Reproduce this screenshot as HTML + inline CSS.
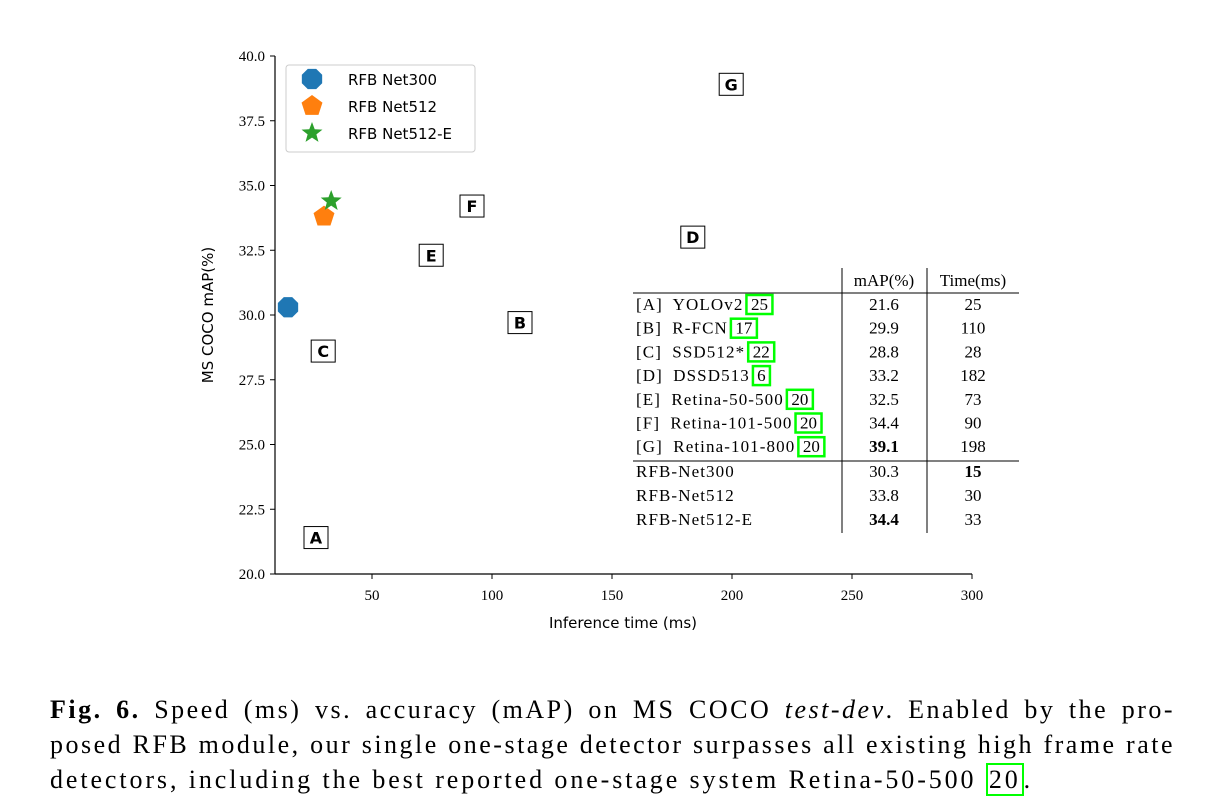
<!DOCTYPE html>
<html><head><meta charset="utf-8"><style>
body{margin:0;background:#fff;width:1215px;height:806px;overflow:hidden;position:relative}
svg{position:absolute;left:0;top:0}
.cap{position:absolute;left:50px;width:1125px;font-family:"Liberation Serif",serif;font-size:26px;letter-spacing:2.5px;line-height:30px;text-align:justify;text-align-last:justify;color:#000;white-space:nowrap}
.ref{border:2px solid #00ff00;padding:0 1px}
</style></head><body>
<svg id="chart" width="1215" height="680" font-family="Liberation Serif, serif"></svg>
<div class="cap" style="top:695px"><b>Fig. 6.</b> Speed (ms) vs. accuracy (mAP) on MS COCO <i>test-dev</i>. Enabled by the pro-</div>
<div class="cap" style="top:730px">posed RFB module, our single one-stage detector surpasses all existing high frame rate</div>
<div class="cap" style="top:765px;text-align-last:left;letter-spacing:2.9px">detectors, including the best reported one-stage system Retina-50-500 <span class="ref">20</span>.</div>
<script>
const xTicks=[50,100,150,200,250,300];
const yTicks=[20.0,22.5,25.0,27.5,30.0,32.5,35.0,37.5,40.0];
const letters=["A","B","C","D","E","F","G"];
const names=["YOLOv2","R-FCN","SSD512*","DSSD513","Retina-50-500","Retina-101-500","Retina-101-800"];
const refs=["25","17","22","6","20","20","20"];
const otherTime=[25,110,28,182,73,90,198];
const otherMap=[21.6,29.9,28.8,33.2,32.5,34.4,39.1];
const rfbNames=["RFB Net300","RFB Net512","RFB Net512-E"];
const rfbTableNames=["RFB-Net300","RFB-Net512","RFB-Net512-E"];
const rfbTime=[15,30,33];
const rfbMap=[30.3,33.8,34.4];
const colors=["#1f77b4","#ff7f0e","#2ca02c"];
const NS="http://www.w3.org/2000/svg";
const svg=document.getElementById('chart');
const X=v=>372+(v-50)*2.4, Y=v=>574-(v-20)*25.9;
function el(t,a,txt){const e=document.createElementNS(NS,t);for(const k in a)e.setAttribute(k,a[k]);if(txt!==undefined)e.textContent=txt;svg.appendChild(e);return e;}
let e=el('line',{x1:275,y1:574,x2:972,y2:574,stroke:'#000','stroke-width':1.2});

e=el('line',{x1:275,y1:56,x2:275,y2:574,stroke:'#000','stroke-width':1.2});

xTicks.forEach(v=>{
 e=el('line',{x1:X(v),y1:574,x2:X(v),y2:579,stroke:'#000'});
 
 e=el('text',{x:X(v),y:600,'font-size':15,'text-anchor':'middle'},String(v));
 
});
yTicks.forEach(v=>{
 e=el('line',{x1:270,y1:Y(v),x2:275,y2:Y(v),stroke:'#000'});
 
 e=el('text',{x:265,y:Y(v)+5,'font-size':15,'text-anchor':'end'},v.toFixed(1));
 
});
e=el('text',{x:623,y:628,'font-size':15,'text-anchor':'middle','font-family':'DejaVu Sans, sans-serif'},'Inference time (ms)');

e=el('text',{x:0,y:0,'font-size':15,'text-anchor':'middle','font-family':'DejaVu Sans, sans-serif',transform:'translate(213,315) rotate(-90)'},'MS COCO mAP(%)');

letters.forEach((L,i)=>{
 const cx=X(otherTime[i])+4, cy=Y(otherMap[i])+5;
 e=el('rect',{x:cx-12,y:cy-11,width:24,height:22,fill:'#fff',stroke:'#000','stroke-width':1});
 
 e=el('text',{x:cx,y:cy+6,'font-size':16,'font-weight':'bold','text-anchor':'middle','font-family':'DejaVu Sans, sans-serif'},L);
 
});
function marker(k,cx,cy,s){
 let pts=[];
 if(k===0){for(let i=0;i<8;i++){const a=Math.PI/8+i*Math.PI/4;pts.push([cx+s*Math.cos(a),cy+s*Math.sin(a)]);}}
 else if(k===1){for(let i=0;i<5;i++){const a=-Math.PI/2+i*2*Math.PI/5;pts.push([cx+s*Math.cos(a),cy+s*Math.sin(a)]);}}
 else {for(let i=0;i<10;i++){const a=-Math.PI/2+i*Math.PI/5;const r=i%2?s*0.42:s;pts.push([cx+r*Math.cos(a),cy+r*Math.sin(a)]);}}
 return el('polygon',{points:pts.map(p=>p.join(',')).join(' '),fill:colors[k]});
}
rfbTime.forEach((t,i)=>{
 e=marker(i,X(t),Y(rfbMap[i]),11);
 
});
e=el('rect',{x:286,y:65,width:189,height:87,rx:3,fill:'#fff',stroke:'#ccc'});

rfbNames.forEach((n,i)=>{
 const y=79+i*27;
 e=marker(i,312,y,11);
 
 e=el('text',{x:348,y:y+6,'font-size':15,'font-family':'DejaVu Sans, sans-serif'},n);
 
});
const T=17;
e=el('line',{x1:842,y1:268,x2:842,y2:533,stroke:'#000'});
e=el('line',{x1:927,y1:268,x2:927,y2:533,stroke:'#000'});
e=el('line',{x1:633,y1:293,x2:1019,y2:293,stroke:'#000'});
e=el('line',{x1:633,y1:461,x2:1019,y2:461,stroke:'#000'});
e=el('text',{x:884,y:286,'font-size':T,'text-anchor':'middle'},'mAP(%)');
e=el('text',{x:973,y:286,'font-size':T,'text-anchor':'middle'},'Time(ms)');
letters.forEach((L,i)=>{
 const y=310+i*23.7;
 const t=el('text',{x:636,y:y,'font-size':T,'word-spacing':5,'letter-spacing':1.1},'['+L+'] '+names[i]+' ');
 
 const len=t.getComputedTextLength();
 const rw=refs[i].length*9+8;
 e=el('rect',{x:636+len+3,y:y-15,width:rw,height:19,fill:'none',stroke:'#00ff00','stroke-width':2.5});
 
 e=el('text',{x:636+len+3+rw/2,y:y,'font-size':T,'text-anchor':'middle'},refs[i]);
 
 e=el('text',{x:884,y:y,'font-size':T,'text-anchor':'middle','font-weight':i===6?'bold':'normal'},otherMap[i].toFixed(1));
 
 e=el('text',{x:973,y:y,'font-size':T,'text-anchor':'middle'},String(otherTime[i]));
 
});
rfbTableNames.forEach((n,i)=>{
 const y=477+i*24;
 e=el('text',{x:636,y:y,'font-size':T,'letter-spacing':1.1},n);
 e=el('text',{x:884,y:y,'font-size':T,'text-anchor':'middle','font-weight':i===2?'bold':'normal'},rfbMap[i].toFixed(1));
 
 e=el('text',{x:973,y:y,'font-size':T,'text-anchor':'middle','font-weight':i===0?'bold':'normal'},String(rfbTime[i]));
 
});
</script>
</body></html>
